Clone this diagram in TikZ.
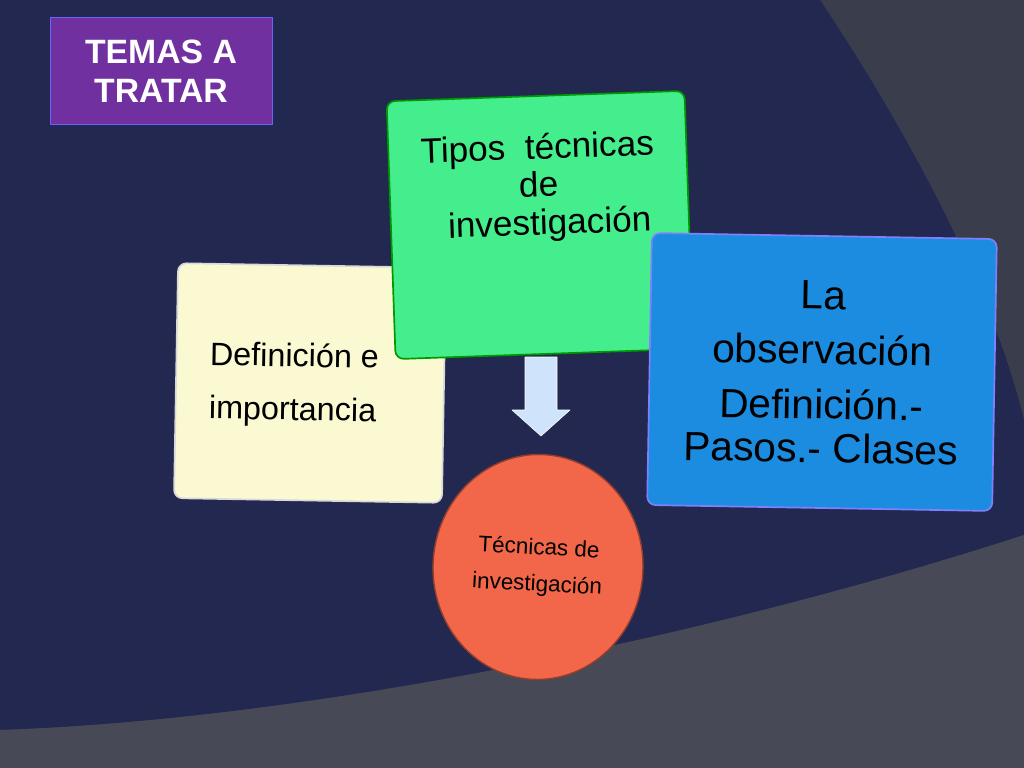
\documentclass[tikz,border=0pt]{standalone}
\usepackage{fontspec}
\setmainfont{Liberation Sans}
\usetikzlibrary{positioning,shapes.geometric}
\definecolor{navy}{HTML}{232850}
\definecolor{greyA}{HTML}{3A3D4C}
\definecolor{greyB}{HTML}{474957}
\definecolor{purp}{HTML}{7030A0}
\definecolor{yel}{HTML}{FBF9D2}
\definecolor{grn}{HTML}{45EE8C}
\definecolor{blu}{HTML}{1C8CE0}
\definecolor{red}{HTML}{F26749}
\definecolor{arr}{HTML}{CFE3FA}
\tikzset{
  topic/.style={draw=white!85!black,line width=1.2pt,rounded corners=6pt,align=center,inner sep=0pt},
}
\begin{document}
\begin{tikzpicture}[x=0.025cm,y=-0.025cm,line cap=round,line join=round]
\useasboundingbox (0,0) rectangle (1024,768);
\fill[greyA] (0,0) rectangle (1024,768);
\fill[navy] (0,0) -- (820,0) .. controls (900,120) and (990,280) .. (1024,420) -- (1024,535) .. controls (700,640) and (300,720) .. (0,730) -- cycle;
\fill[greyB] (0,768) -- (0,730) .. controls (300,720) and (700,640) .. (1024,535) -- (1024,768) -- cycle;
% title
\node[draw=blue!60!white,fill=purp,minimum width=222*0.025cm,minimum height=107*0.025cm,align=center,
  text=white,font=\fontsize{24}{28}\selectfont\bfseries] (title) at (161,71) {TEMAS A\\TRATAR};
% topic boxes
\node[topic,fill=yel,minimum width=268*0.025cm,minimum height=235*0.025cm,rotate=-1,
  font=\fontsize{23}{38}\selectfont] (defi) at (310,383) {\hspace*{0.4cm}\begin{tabular}{@{}l@{}}Definición e\\importancia\end{tabular}\hspace*{1.2cm}};
\node[topic,fill=grn,draw=green!60!black,minimum width=298*0.025cm,minimum height=258*0.025cm,rotate=2,
  font=\fontsize{25}{27}\selectfont] (tipos) at (540,225) {Tipos \ técnicas\\de\\\ \ investigación\\[1.1cm]};
\node[topic,fill=blu,draw=blue!50!white,minimum width=345*0.025cm,minimum height=272*0.025cm,rotate=-1,
  font=\fontsize{29}{31}\selectfont] (obs) at (822,372) {La\\[8pt]observación\\[8pt]Definición.-\\Pasos.- Clases};
% block arrow
\fill[arr,draw=white] (525,357) -- (557,357) -- (557,410) -- (570,410) -- (541,436) -- (512,410) -- (525,410) -- cycle;
\node[ellipse,fill=red,draw=red!60!black,line width=1pt,minimum width=210*0.025cm,minimum height=225*0.025cm,
  align=center,font=\fontsize{16}{26}\selectfont,rotate=-3] (tecnicas) at (538,567) {Técnicas de\\investigación};
\end{tikzpicture}
\end{document}
